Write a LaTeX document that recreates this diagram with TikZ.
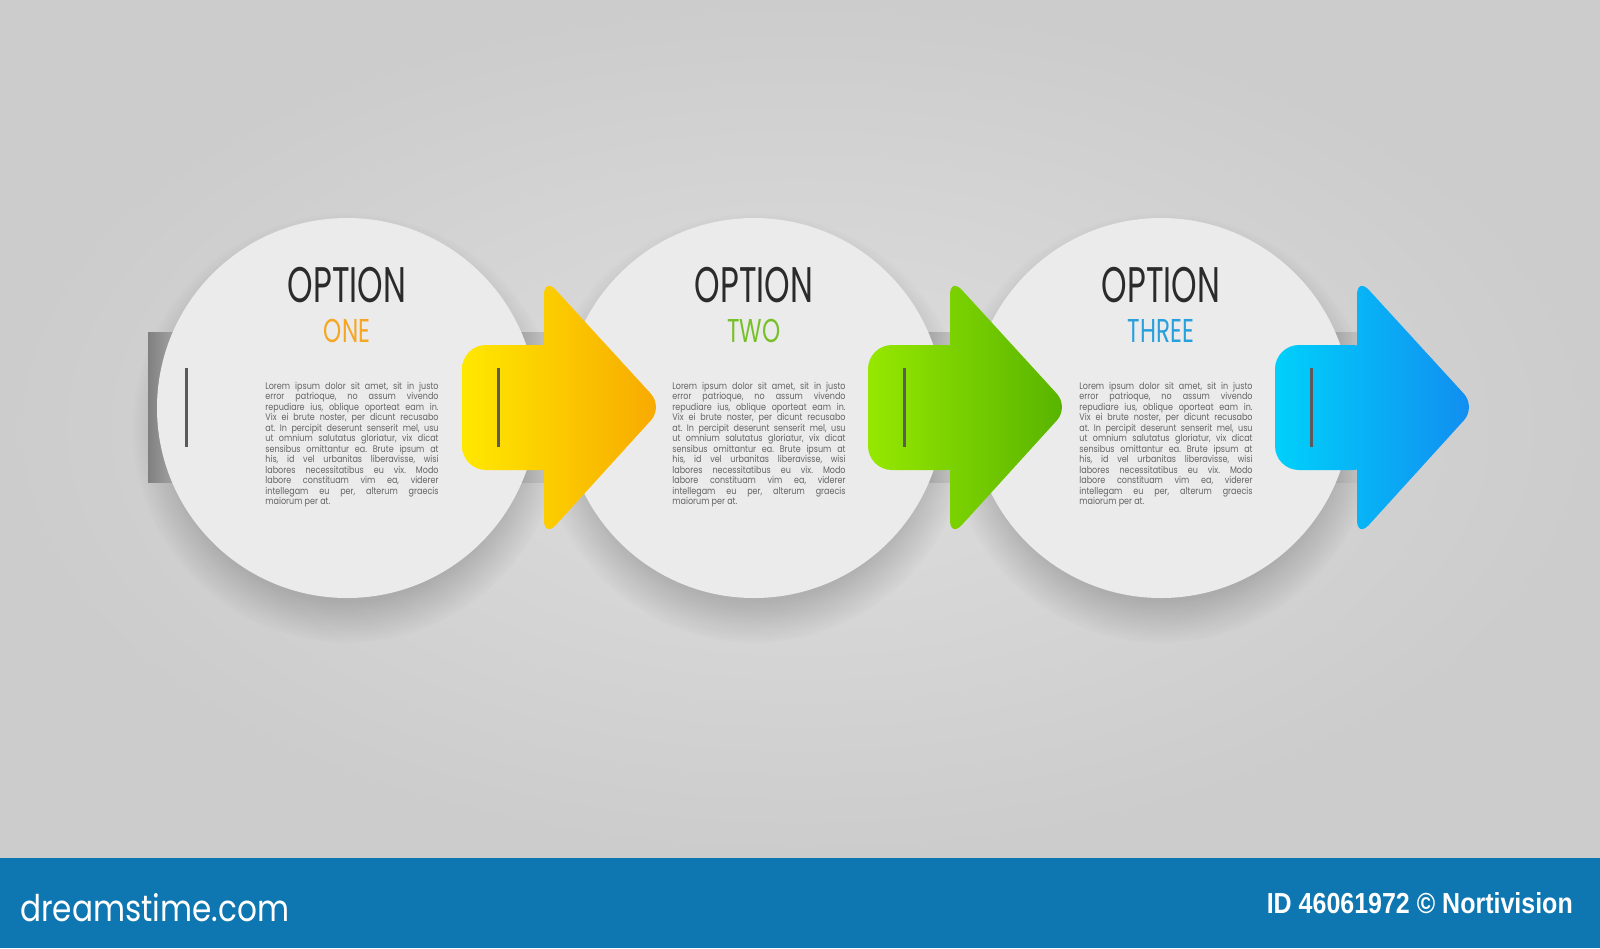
\documentclass[tikz,border=0pt]{standalone}
\usepackage{fontspec}
\setmainfont{Poppins}
\newfontfamily\idfont{Liberation Sans}
\usepackage{tikz}
\usetikzlibrary{fadings}
\definecolor{bglight}{RGB}{222,222,222}
\definecolor{bgdark}{RGB}{204,204,204}
\definecolor{discgray}{RGB}{235,235,235}
\definecolor{slotdark}{RGB}{128,128,128}
\definecolor{slotlight}{RGB}{196,196,196}
\definecolor{ink}{RGB}{43,43,43}
\definecolor{blurbgray}{RGB}{100,100,100}
\definecolor{tickgray}{RGB}{90,90,90}
\definecolor{barblue}{RGB}{14,118,176}
\definecolor{yellowL}{RGB}{255,232,0}
\definecolor{yellowR}{RGB}{247,168,0}
\definecolor{greenL}{RGB}{150,232,0}
\definecolor{greenR}{RGB}{86,178,0}
\definecolor{blueL}{RGB}{0,208,250}
\definecolor{blueR}{RGB}{18,140,240}
\definecolor{oneorange}{RGB}{245,166,35}
\definecolor{twogreen}{RGB}{120,192,40}
\definecolor{threeblue}{RGB}{40,160,222}
\tikzset{
  disc/.style={circle, fill=discgray, minimum size=380pt, inner sep=0pt},
  shadowdisc/.style={black, opacity=0.18, path fading=circle with fuzzy edge 20 percent},
  slot/.style={left color=slotdark, right color=slotlight},
  tickline/.style={tickgray, line width=3pt},
  title/.style={anchor=base, inner sep=0pt, text=ink, font=\fontsize{50}{50}\selectfont},
  subtitle/.style={anchor=base, inner sep=0pt, font=\fontsize{33}{33}\selectfont},
  blurb/.style={anchor=north, inner sep=0pt, text=blurbgray, text width=205pt, align=justify, xscale=0.845, transform shape, font=\fontsize{9.5}{10.5}\selectfont\frenchspacing}
}
\newcommand{\lorem}{Lorem ipsum dolor sit amet, sit in justo\linebreak error patrioque, no assum vivendo\linebreak repudiare ius, oblique oporteat eam in.\linebreak Vix ei brute noster, per dicunt recusabo\linebreak at. In percipit deserunt senserit mel, usu\linebreak ut omnium salutatus gloriatur, vix dicat\linebreak sensibus omittantur ea. Brute ipsum at\linebreak his, id vel urbanitas liberavisse, wisi\linebreak labores necessitatibus eu vix. Modo\linebreak labore constituam vim ea, viderer\linebreak intellegam eu per, alterum graecis\linebreak maiorum per at.}
\begin{document}
\begin{tikzpicture}[x=1pt,y=-1pt]
\useasboundingbox (0,0) rectangle (1600,948);
\shade[inner color=bglight, outer color=bgdark] (0,0) rectangle (1600,858);
\fill[barblue] (0,858) rectangle (1600,948);
\fill[shadowdisc] (347,428) circle (215);
\fill[shadowdisc] (754,428) circle (215);
\fill[shadowdisc] (1161,428) circle (215);
\shade[slot] (148,332) rectangle (200,482);
\shade[slot] (487,332) rectangle (549,482);
\shade[slot] (894,332) rectangle (955,482);
\shade[slot] (1301,332) rectangle (1361,482);
\node[disc] (one) at (347,408) {};
\node[disc] (two) at (754,408) {};
\node[disc] (three) at (1161,408) {};
\draw[tickline] (186,368) -- (186,447);
\node[title] (title1) at (347,302) {\scalebox{0.65}[1]{OPTION}};
\node[subtitle, text=oneorange] (sub1) at (347,342) {\scalebox{0.7}[1]{ONE}};
\node[blurb] (text1) at (352,382) {\lorem};
\node[title] (title2) at (754,302) {\scalebox{0.65}[1]{OPTION}};
\node[subtitle, text=twogreen] (sub2) at (754,342) {\scalebox{0.7}[1]{TWO}};
\node[blurb] (text2) at (759,382) {\lorem};
\node[title] (title3) at (1161,302) {\scalebox{0.65}[1]{OPTION}};
\node[subtitle, text=threeblue] (sub3) at (1161,342) {\scalebox{0.7}[1]{THREE}};
\node[blurb] (text3) at (1166,382) {\lorem};
\shade[left color=yellowL, right color=yellowR] [rounded corners=24] (564,345) -- (462,345) -- (462,470) -- (564,470) -- cycle [rounded corners=18] (544,538) -- (663,407) -- (544,277) -- cycle;
\shade[left color=greenL, right color=greenR] [rounded corners=24] (970,345) -- (868,345) -- (868,470) -- (970,470) -- cycle [rounded corners=18] (950,538) -- (1069,407) -- (950,277) -- cycle;
\shade[left color=blueL, right color=blueR] [rounded corners=24] (1377,345) -- (1275,345) -- (1275,470) -- (1377,470) -- cycle [rounded corners=18] (1357,538) -- (1476,407) -- (1357,277) -- cycle;
\draw[tickline] (498,368) -- (498,447);
\draw[tickline] (904,368) -- (904,447);
\draw[tickline] (1311,368) -- (1311,447);
\node[anchor=base west, inner sep=0pt, text=white] (brand) at (20,921) {\resizebox{269pt}{28pt}{dreamstime.com}};
\node[anchor=base east, inner sep=0pt, text=white, font=\idfont\bfseries] (credit) at (1573,913) {\resizebox{306pt}{21pt}{ID 46061972 © Nortivision}};
\end{tikzpicture}
\end{document}
